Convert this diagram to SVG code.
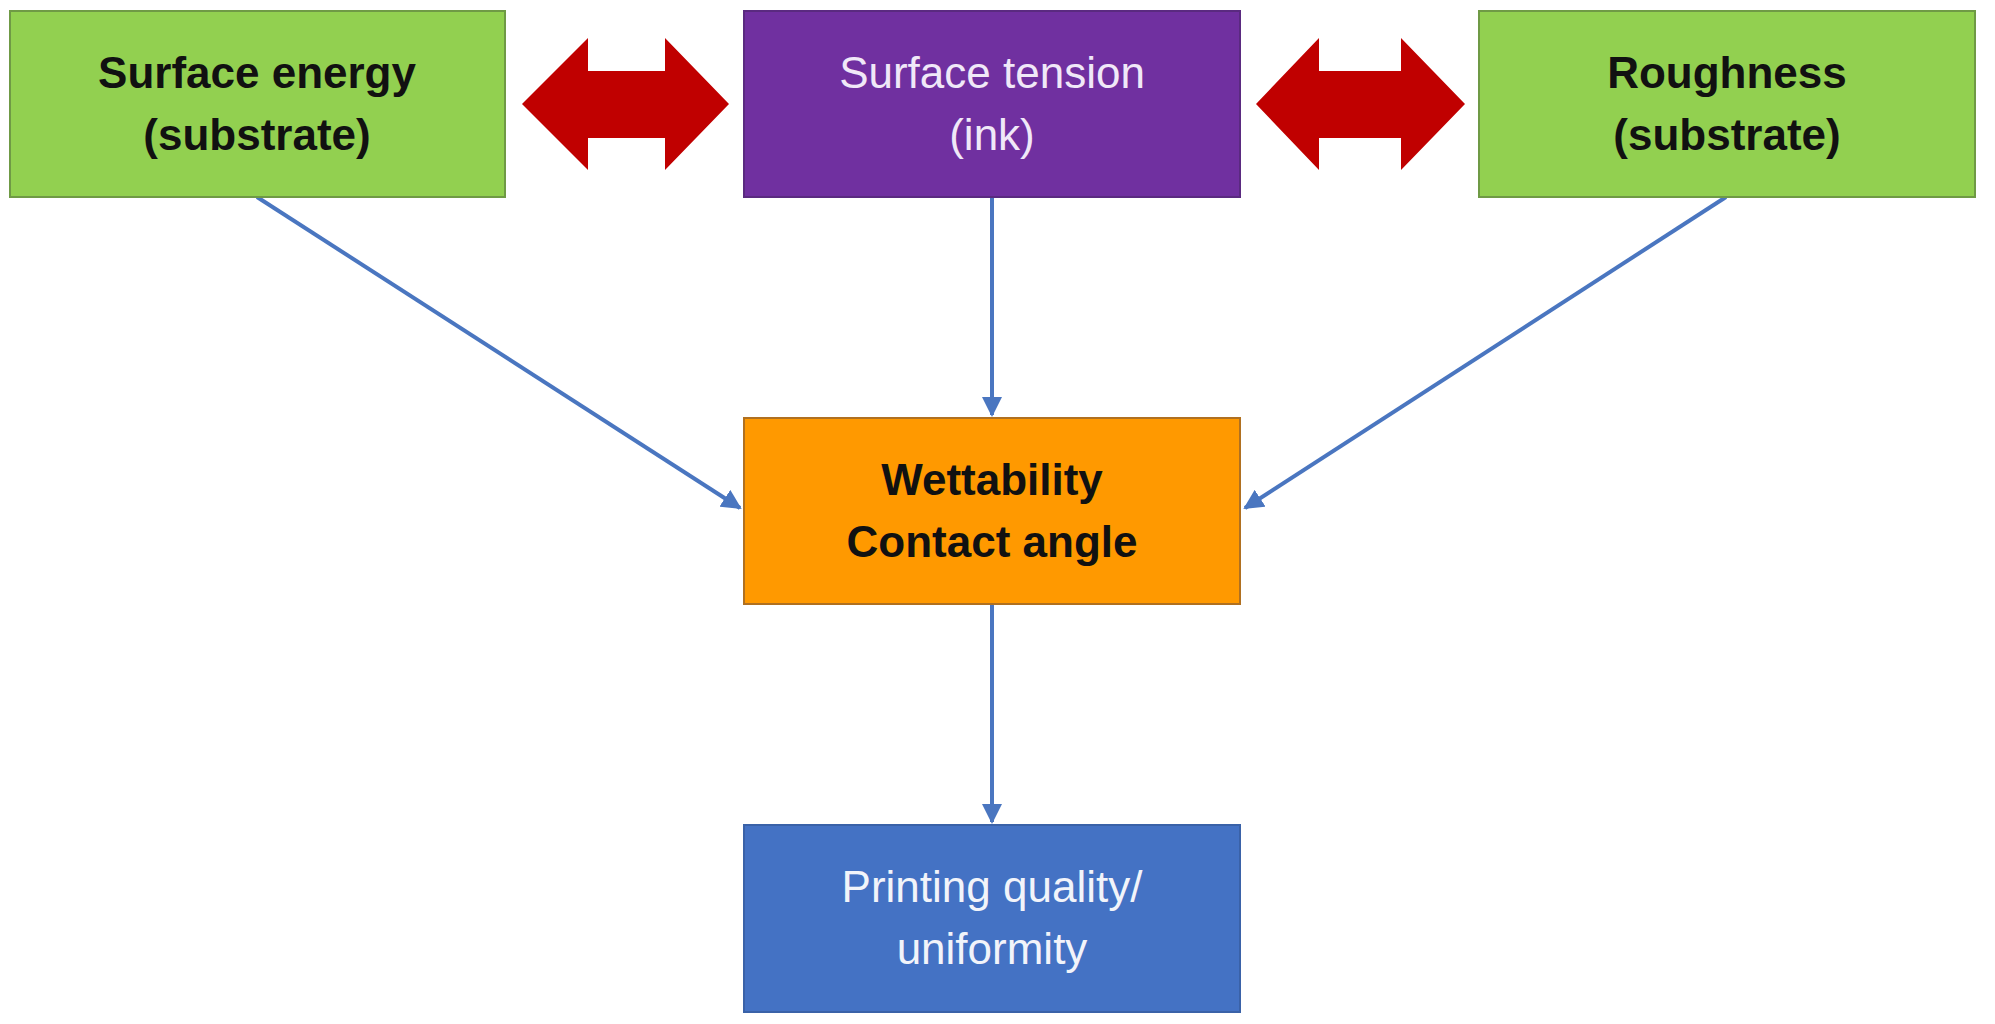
<svg xmlns="http://www.w3.org/2000/svg" width="1995" height="1024" viewBox="0 0 1995 1024">
<defs>
<style>
.box{stroke-width:2}
.t{font-family:"Liberation Sans",Arial,sans-serif;font-size:44px;text-anchor:middle}
.b{font-weight:bold;fill:#111}
.w{fill:#F0E8F8}
.c{stroke:#4A76C0;stroke-width:4;fill:none;marker-end:url(#ah)}
.dbl{fill:#C00000}
</style>
<marker id="ah" viewBox="0 0 10 10" refX="9" refY="5" markerWidth="5" markerHeight="5" orient="auto" markerUnits="strokeWidth">
<path d="M0,0 L10,5 L0,10 z" fill="#4A76C0"/>
</marker>
</defs>
<rect width="1995" height="1024" fill="#fff"/>
<g id="connectors">
<line class="c" x1="257" y1="197" x2="740" y2="508"/>
<line class="c" x1="992" y1="197" x2="992" y2="415"/>
<line class="c" x1="1726" y1="197" x2="1245" y2="508"/>
<line class="c" x1="992" y1="604" x2="992" y2="822"/>
<path class="dbl" d="M522,104 L588,38 L588,71 L665,71 L665,38 L729,104 L665,170 L665,138 L588,138 L588,170 Z"/>
<path class="dbl" d="M1256,104 L1319,38 L1319,71 L1401,71 L1401,38 L1465,104 L1401,170 L1401,138 L1319,138 L1319,170 Z"/>
</g>
<g id="surface-energy">
<rect class="box" x="10" y="11" width="495" height="186" fill="#92D050" stroke="#6F9A45"/>
<text class="t b" x="257" y="88">Surface energy</text>
<text class="t b" x="257" y="150">(substrate)</text>
</g>
<g id="surface-tension">
<rect class="box" x="744" y="11" width="496" height="186" fill="#7030A0" stroke="#5A2A80"/>
<text class="t w" x="992" y="88">Surface tension</text>
<text class="t w" x="992" y="150">(ink)</text>
</g>
<g id="roughness">
<rect class="box" x="1479" y="11" width="496" height="186" fill="#92D050" stroke="#6F9A45"/>
<text class="t b" x="1727" y="88">Roughness</text>
<text class="t b" x="1727" y="150">(substrate)</text>
</g>
<g id="wettability">
<rect class="box" x="744" y="418" width="496" height="186" fill="#FF9900" stroke="#B07020"/>
<text class="t b" x="992" y="495">Wettability</text>
<text class="t b" x="992" y="557">Contact angle</text>
</g>
<g id="printing">
<rect class="box" x="744" y="825" width="496" height="187" fill="#4472C4" stroke="#3A62A8"/>
<text class="t" fill="#F2F4FA" x="992" y="902">Printing quality/</text>
<text class="t" fill="#F2F4FA" x="992" y="964">uniformity</text>
</g>
</svg>
